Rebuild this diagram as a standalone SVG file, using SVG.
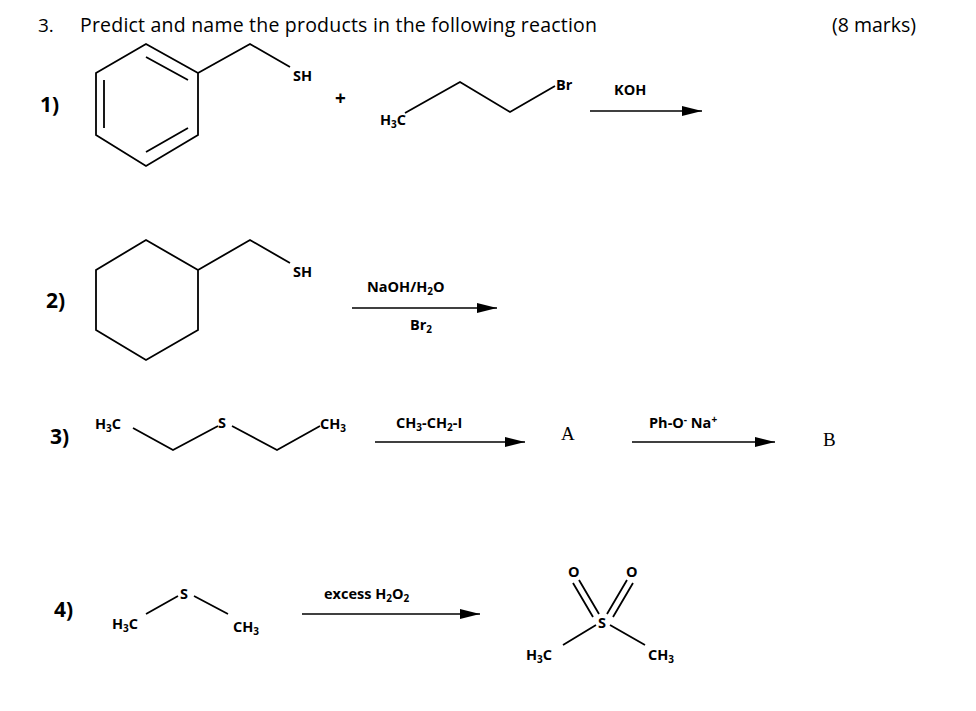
<svg xmlns="http://www.w3.org/2000/svg" width="976" height="711" viewBox="0 0 976 711">
<style>
text{font-family:"Open Sans","Liberation Sans",sans-serif;fill:#000}
.a{font-size:14.5px;font-weight:bold}
.s{font-size:10px;font-weight:bold}
.b{fill:none;stroke:#000;stroke-width:1.8}
.n{font-size:21px;font-weight:bold}
.r{font-family:"Liberation Serif",serif;font-size:19px}
</style>
<defs><marker id="ah" viewBox="0 0 20 10" refX="20" refY="5" markerWidth="20" markerHeight="10" markerUnits="userSpaceOnUse" orient="auto"><path d="M0,0 L20,5 L0,10 z"/></marker></defs>
<rect width="976" height="711" fill="#fff"/>
<text x="38" y="32" font-size="19">3.</text>
<text x="80" y="32" font-size="19.5" textLength="517">Predict and name the products in the following reaction</text>
<text x="832" y="32" font-size="19.5">(8 marks)</text>
<text class="n" x="40" y="112">1)</text>
<text class="n" x="46" y="308">2)</text>
<text class="n" x="50" y="444">3)</text>
<text class="n" x="54" y="617">4)</text>
<g id="benzylthiol">
<path class="b" d="M146,44 L198,73 L198,135 L146,166 L96,135 L96,73 Z M198,73 L250,44 L290,67"/>
<path class="b" d="M146,57 L188,80 M188,128 L146,152 M104,80 L104,128"/>
<text class="a" x="293" y="81">SH</text>
</g>
<text id="plus" x="335" y="105" font-size="19" font-weight="bold">+</text>
<g id="propylbromide">
<path class="b" d="M405,113 L460,82 L510,112 L555,86"/>
<text class="a" x="380" y="125">H<tspan class="s" dy="3">3</tspan><tspan dy="-3">C</tspan></text>
<text class="a" x="556" y="90">Br</text>
</g>
<g id="cyclohexylthiol">
<path class="b" d="M146,240 L198,270 L198,330 L146,360 L96,330 L96,270 Z M198,270 L250,240 L290,263"/>
<text class="a" x="293" y="277">SH</text>
</g>
<g id="diethylsulfide">
<path class="b" d="M133,428 L173,450 L218,426 M232,426 L277,450 L320,426"/>
<text class="a" x="95" y="429">H<tspan class="s" dy="3">3</tspan><tspan dy="-3">C</tspan></text>
<text class="a" x="218" y="428">S</text>
<text class="a" x="320" y="429">CH<tspan class="s" dy="3">3</tspan></text>
</g>
<text id="A" class="r" x="561" y="440">A</text>
<text id="B" class="r" x="823" y="446">B</text>
<g id="dimethylsulfide">
<path class="b" d="M146,614 L178,596 M194,596 L228,614"/>
<text class="a" x="112" y="629">H<tspan class="s" dy="3">3</tspan><tspan dy="-3">C</tspan></text>
<text class="a" x="180" y="599">S</text>
<text class="a" x="233" y="632">CH<tspan class="s" dy="3">3</tspan></text>
</g>
<g id="dimethylsulfone">
<path class="b" d="M563,645 L596,625 M610,625 L645,645 M579,580 L599,614 M573,583 L593,617 M627,580 L607,614 M633,583 L613,617"/>
<text class="a" x="526" y="660">H<tspan class="s" dy="3">3</tspan><tspan dy="-3">C</tspan></text>
<text class="a" x="598" y="628">S</text>
<text class="a" x="568" y="577">O</text>
<text class="a" x="626" y="577">O</text>
<text class="a" x="648" y="660">CH<tspan class="s" dy="3">3</tspan></text>
</g>
<g id="connectors" stroke="#000" stroke-width="1.5">
<line x1="590" y1="111" x2="702" y2="111" marker-end="url(#ah)"/>
<line x1="352" y1="308" x2="497" y2="308" marker-end="url(#ah)"/>
<line x1="375" y1="442" x2="525" y2="442" marker-end="url(#ah)"/>
<line x1="632" y1="442" x2="775" y2="442" marker-end="url(#ah)"/>
<line x1="302" y1="614" x2="480" y2="614" marker-end="url(#ah)"/>
</g>
<text class="a" x="614" y="95" font-size="13">KOH</text>
<text class="a" x="367" y="292">NaOH/H<tspan class="s" dy="3">2</tspan><tspan dy="-3">O</tspan></text>
<text class="a" x="410" y="330">Br<tspan class="s" dy="3">2</tspan></text>
<text class="a" x="396" y="428">CH<tspan class="s" dy="3">3</tspan><tspan dy="-3">-CH</tspan><tspan class="s" dy="3">2</tspan><tspan dy="-3">-I</tspan></text>
<text class="a" x="649" y="428">Ph-O<tspan class="s" dy="-5">-</tspan><tspan dy="5"> Na</tspan><tspan class="s" dy="-5">+</tspan></text>
<text class="a" x="324" y="599">excess H<tspan class="s" dy="3">2</tspan><tspan dy="-3">O</tspan><tspan class="s" dy="3">2</tspan></text>
</svg>
